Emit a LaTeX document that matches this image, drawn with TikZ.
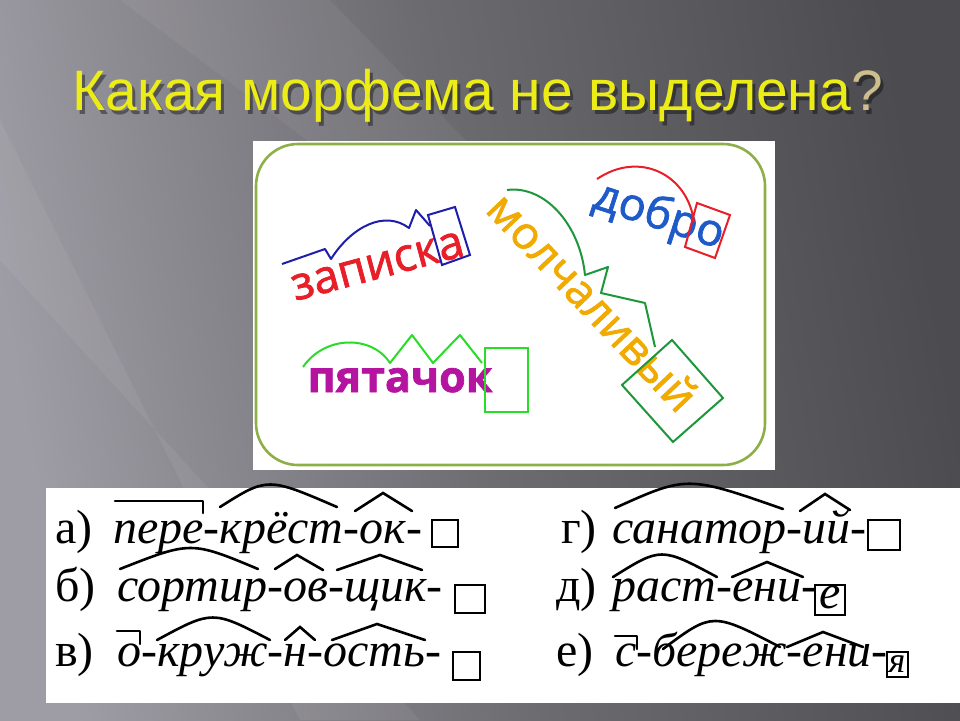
\documentclass[tikz,border=0pt]{standalone}
\usepackage{fontspec}
\usetikzlibrary{calc}
\newfontfamily\titlefont{Liberation Sans}
\newfontfamily\kidfont[FakeBold=1.6]{Open Sans}
\newfontfamily\serfont{Liberation Serif}
\definecolor{bgl}{RGB}{158,156,164}
\definecolor{bgm}{RGB}{108,107,112}
\definecolor{bgd}{RGB}{76,76,80}
\definecolor{ttl}{RGB}{236,236,22}
\definecolor{qmark}{RGB}{205,190,140}
\definecolor{frame}{RGB}{140,176,70}
\definecolor{wred}{RGB}{232,30,40}
\definecolor{wblue}{RGB}{30,90,200}
\definecolor{worange}{RGB}{240,170,0}
\definecolor{wmag}{RGB}{180,20,160}
\definecolor{lgreen}{RGB}{40,220,40}
\definecolor{dgreen}{RGB}{30,150,60}
\definecolor{navy}{RGB}{30,30,170}
\newcommand\qarc[3]{\draw[mark line] #1 .. controls ($2*#2-0.5*#1-0.5*#3$) .. #3;}
\begin{document}
\begin{tikzpicture}[x=1pt,y=-1pt,
  mark line/.style={line width=2.6pt,line cap=round,line join=round,black},
  caret/.style={line width=2.6pt,line cap=round,line join=miter,black},
  morphbox/.style={line width=2pt,black},
  rowlabel/.style={anchor=base west,inner sep=0pt,font=\serfont\fontsize{48}{50}\selectfont},
  rowword/.style={anchor=base west,inner sep=0pt,font=\serfont\itshape\fontsize{48}{50}\selectfont},
  kid/.style={inner sep=0pt,anchor=base}]
\useasboundingbox (0,0) rectangle (960,720);
% background
\shade[left color=bgl,right color=bgd,middle color=bgm,shading angle=100] (0,0) rectangle (960,720);
\fill[white,opacity=0.06] (0,120) -- (0,260) -- (420,720) -- (300,720) -- cycle;
\fill[white,opacity=0.05] (120,0) -- (330,0) -- (620,300) -- (560,330) -- cycle;
% title
\node[anchor=base west,inner sep=0pt,black,opacity=0.4,font=\titlefont\fontsize{57}{60}\selectfont] (tshadow) at (75,114) {Какая морфема не выделена?};
\node[anchor=base west,inner sep=0pt,ttl,font=\titlefont\fontsize{57}{60}\selectfont] (title) at (72,110) {Какая морфема не выделена{\color{qmark}?}};
% top picture
\fill[white] (253,141) rectangle (775,470);
\draw[frame,line width=2.6pt,rounded corners=42pt] (256,144) rectangle (765,465);
% записка
\node[kid,wred,rotate=15,font=\kidfont\fontsize{46}{48}\selectfont] (zap) at (381,278) {записка};
\draw[navy,line width=2pt,line join=round] (282,264) -- (325,249) -- (331,259) .. controls (352,226) and (385,210) .. (409,228) -- (416,210) -- (430,226);
\draw[navy,line width=2pt] (428,215) -- (455,207) -- (470,255) -- (442,265) -- cycle;
% добро
\node[kid,wblue,rotate=-18,font=\kidfont\fontsize{45}{46}\selectfont] (dobro) at (655,228) {добро};
\draw[wred,line width=2pt] (597,179) .. controls (640,150) and (688,175) .. (694,222);
\draw[wred,line width=2pt] (697,203) -- (730,215) -- (715,258) -- (685,247) -- cycle;
% молчаливый
\node[kid,worange,rotate=-46.5,font=\kidfont\fontsize{45}{46}\selectfont] (molch) at (581,313) {молчаливый};
\draw[dgreen,line width=2pt,line join=round] (507,190) .. controls (545,185) and (580,225) .. (585,275) -- (608,267) -- (601,293) -- (645,303) -- (655,347);
\draw[dgreen,line width=2pt] (622,385) -- (672,340) -- (723,398) -- (673,442) -- cycle;
% пятачок
\node[kid,wmag,font=\kidfont\bfseries\fontsize{43}{46}\selectfont] (pyat) at (400,392) {пятачок};
\draw[lgreen,line width=2pt,line join=round] (303,367) .. controls (325,335) and (372,335) .. (390,363) -- (412,335) -- (433,363) -- (460,335) -- (482,363);
\draw[lgreen,line width=2.2pt] (485,348) rectangle (528,412);
% bottom panel
\fill[white] (46,488) rectangle (960,703);
% row a
\node[rowlabel] (la) at (55,543) {а)};
\node[rowword] (wa) at (113,543) {пере-крёст-ок-};
\draw[morphbox] (432,520) rectangle (458,547);
\draw[mark line] (115,501) -- (203,501) -- (203,513);
\qarc{(220,507)}{(273,492)}{(337,507)}
\draw[caret] (355,511) -- (383,493) -- (412,511);
% row b
\node[rowlabel] (lb) at (55,601) {б)};
\node[rowword] (wb) at (117,601) {сортир-ов-щик-};
\draw[morphbox] (455,585) rectangle (485,613);
\qarc{(120,569)}{(190,555)}{(258,569)}
\draw[caret] (275,569) -- (297,555) -- (323,570);
\draw[caret] (337,570) -- (380,555) -- (422,570);
% row c
\node[rowlabel] (lc) at (55,666) {в)};
\node[rowword] (wc) at (117,666) {о-круж-н-ость-};
\draw[morphbox] (453,652) rectangle (480,680);
\draw[mark line] (117,631) -- (140,631) -- (140,644);
\qarc{(157,640)}{(213,625)}{(270,640)}
\draw[caret] (285,640) -- (300,627) -- (315,640);
\draw[caret] (332,640) -- (377,624) -- (425,640);
% row g
\node[rowlabel] (lg) at (561,543) {г)};
\node[rowword] (wg) at (612,543) {санатор-ий-};
\draw[morphbox] (868,520) rectangle (900,550);
\qarc{(615,508)}{(693,492)}{(783,509)}
\draw[caret] (800,511) -- (825,494) -- (850,510);
% row d
\node[rowlabel] (ld) at (556,601) {д)};
\node[rowword] (wd) at (612,601) {раст-ени-};
\draw[morphbox] (815,585) rectangle (845,615);
\node[rowword,anchor=base] (ed) at (830,608) {е};
\qarc{(613,577)}{(663,562)}{(717,577)}
\draw[caret] (732,577) -- (767,562) -- (803,577);
% row e
\node[rowlabel] (le) at (556,666) {е)};
\node[rowword] (we) at (615,666) {с-береж-ени-};
\draw[morphbox] (887,652) rectangle (908,677);
\node[rowword,anchor=base,font=\serfont\itshape\fontsize{36}{40}\selectfont] (ya) at (897,672) {я};
\draw[mark line] (615,636) -- (637,636) -- (637,649);
\qarc{(663,649)}{(717,630)}{(780,647)}
\draw[caret] (787,647) -- (823,632) -- (863,647);
\end{tikzpicture}
\end{document}
